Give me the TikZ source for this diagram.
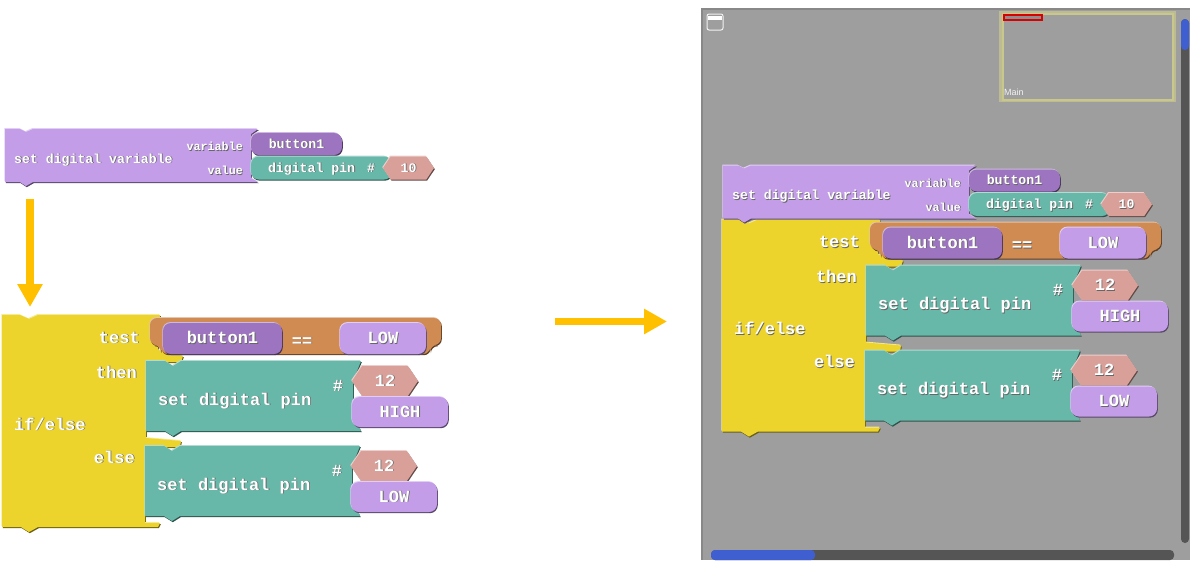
\documentclass[tikz,border=0pt]{standalone}
\usepackage{fontspec}
\usetikzlibrary{arrows.meta,shapes.symbols}
\newfontfamily\blockfont{Liberation Mono}
\definecolor{lilac}{HTML}{C49DE9}
\definecolor{plum}{HTML}{9C74BF}
\definecolor{teal}{HTML}{67B8A8}
\definecolor{salmon}{HTML}{D9A09A}
\definecolor{mustard}{HTML}{ECD42C}
\definecolor{copper}{HTML}{D08B52}
\definecolor{amber}{HTML}{FFC000}
\definecolor{panelgray}{HTML}{9E9E9E}
\definecolor{trackgray}{HTML}{555555}
\definecolor{thumbblue}{HTML}{3F5FD0}
\definecolor{miniborder}{HTML}{C9C88C}
\newcommand{\bt}[1]{\leavevmode\rlap{\color{black!60}\kern.8pt\raisebox{-.9pt}{#1}}{\color{white}#1}}
\tikzset{
  bevel/.style={fill=#1,
    preaction={fill=#1!45!black,transform canvas={xshift=.8pt,yshift=-1.2pt}},
    preaction={fill=#1!50!white,transform canvas={xshift=-.7pt,yshift=.9pt}}},
  bigtext/.style={font=\blockfont\bfseries\fontsize{17}{17}\selectfont,inner sep=0pt,text height=10pt,text depth=0pt},
  smalltext/.style={font=\blockfont\bfseries\fontsize{13.2}{13}\selectfont,inner sep=0pt,text height=8pt,text depth=0pt},
  tinytext/.style={font=\blockfont\bfseries\fontsize{11.7}{12}\selectfont,inner sep=0pt,text height=7pt,text depth=0pt},
  pill/.style={bevel=#1,rounded corners=8pt},
  hexa/.style={bevel=salmon,signal,signal to=west and east,signal pointer angle=112},
  bigarrow/.style={draw=amber,-{Triangle[length=23pt,width=24pt]}}
}
% one green block with its two sockets
\newcommand{\PinBlock}[6]{
  \begin{scope}[shift={(#2,#3)}]
    \draw[bevel=teal,draw=none] (0,0)--(19,0)--(27,5)--(35,0)--(215,0)--(207,20)--(207,54)--(215,70)--(35,70)--(27,75)--(19,70)--(0,70)--cycle;
    \node[bigtext,anchor=west] (#1name) at (12,39) {\bt{set digital pin}};
    \node[bigtext] (#1hash) at (192,25) {\bt{\#}};
    \node[bigtext,hexa,minimum width=66pt,minimum height=30pt] (#1num) at (239,20) {\bt{#4}};
    \node[bigtext,pill=lilac,minimum width=#6pt,minimum height=30pt] (#1lvl) at (206+#6/2,51) {\bt{#5}};
  \end{scope}
}
% the if/else with its test and both branches
\newcommand{\IfBlock}[3]{
  \begin{scope}[shift={(#2,#3)}]
    \draw[bevel=mustard,draw=none] (2,315)--(20,315)--(29,319)--(38,315)--(160,315)--(158,350)--(183,356)--(181,362)--(146,362)--(146,438)--(181,441)--(180,447)--(145,447)--(145,523)--(160,523)--(158,527)--(38,527)--(29,532)--(21,527)--(2,527)--cycle;
    \draw[bevel=copper,draw=none,rounded corners=7pt] (170,318)--(150,318)--(150,345)--(161,345)--(161,354)--(430,354)--(430,345)--(441,345)--(441,318)--cycle;
    \node[bigtext,pill=plum,minimum width=119pt,minimum height=31pt] (#1var) at (222.5,338.5) {\bt{button1}};
    \node[bigtext] (#1eq) at (302,341) {\bt{==}};
    \node[bigtext,pill=lilac,minimum width=86pt,minimum height=31pt] (#1low) at (383,338.5) {\bt{LOW}};
    \node[bigtext,anchor=east] (#1test) at (140,338) {\bt{test}};
    \node[bigtext,anchor=east] (#1then) at (137,373) {\bt{then}};
    \node[bigtext,anchor=east] (#1else) at (135,458) {\bt{else}};
    \node[bigtext,anchor=west] (#1if) at (14,425) {\bt{if/else}};
  \end{scope}
  \PinBlock{#1a}{146+#2}{361+#3}{12}{HIGH}{96}
  \PinBlock{#1b}{145+#2}{446+#3}{12}{LOW}{86}
}
% the lilac set digital variable block
\newcommand{\VarBlock}[3]{
  \begin{scope}[shift={(#2,#3)}]
    \draw[bevel=lilac,draw=none] (5,129)--(20,129)--(26,132)--(33,129)--(258,129)--(251,134)--(251,178)--(258,182)--(33,182)--(26,186)--(20,182)--(5,182)--cycle;
    \node[smalltext,anchor=west] (#1name) at (14,159) {\bt{set digital variable}};
    \node[tinytext,anchor=east] (#1var) at (243,147) {\bt{variable}};
    \node[tinytext,anchor=east] (#1val) at (243,171) {\bt{value}};
    \node[smalltext,pill=plum,minimum width=91pt,minimum height=22pt] (#1btn) at (296.5,144) {\bt{button1}};
    \node[smalltext,pill=teal,minimum width=141pt,minimum height=23pt] (#1pin) at (321.5,168) {\bt{digital pin \hspace{4pt}\#}};
    \node[smalltext,hexa,minimum width=51pt,minimum height=23pt] (#1num) at (408.5,168) {\bt{10}};
  \end{scope}
}
\begin{document}
\begin{tikzpicture}[x=1pt,y=-1pt]
  \useasboundingbox (0,0) rectangle (1190,560);
  \path[fill=white] (0,0) rectangle (1190,560);
  % window on the right
  \fill[panelgray] (702,9) rectangle (1190,560);
  \draw[trackgray!70!white,line width=1.5pt] (702,560)--(702,9)--(1190,9);
  \draw[white!90!gray,line width=1pt,rounded corners=2pt] (707,14) rectangle (723,30);
  \fill[white] (708,16) rectangle (722,20);
  \fill[miniborder!70!panelgray] (999,11) rectangle (1176,102);
  \draw[miniborder,fill=panelgray,line width=1.2pt] (1003,14) rectangle (1173,100);
  \draw[red!85!black,fill=panelgray!90!black,line width=1.1pt] (1004,15) rectangle (1042,20);
  \node[anchor=west,inner sep=0pt,text=white!90!gray,font=\fontspec{Liberation Sans}\fontsize{9}{9}\selectfont] (minilabel) at (1004,92) {Main};
  \fill[trackgray,rounded corners=4pt] (1181,19) rectangle (1189,543);
  \fill[thumbblue,rounded corners=4pt] (1181,19) rectangle (1189,50);
  \fill[trackgray,rounded corners=4pt] (711,550) rectangle (1174,560);
  \fill[thumbblue,rounded corners=4pt] (711,550) rectangle (815,560);

  \VarBlock{lv}{0}{0}
  \IfBlock{li}{0}{0}
  \IfBlock{ri}{720}{-95.5}
  \VarBlock{rv}{718}{36.5}

  \coordinate (downstart) at (30,199);
  \coordinate (downend) at (30,307);
  \coordinate (rightstart) at (555,321.5);
  \coordinate (rightend) at (667,321.5);
  \draw[bigarrow,line width=8pt] (downstart)--(downend);
  \draw[bigarrow,line width=7pt] (rightstart)--(rightend);
\end{tikzpicture}
\end{document}
